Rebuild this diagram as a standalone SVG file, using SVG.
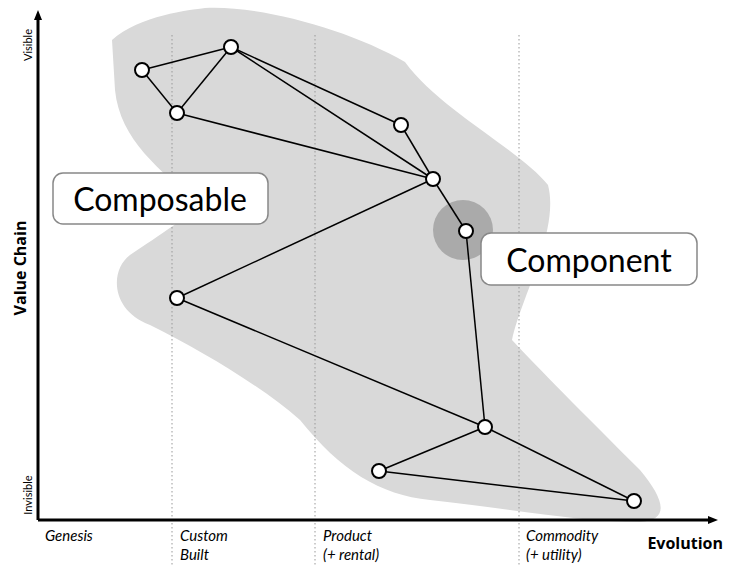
<svg xmlns="http://www.w3.org/2000/svg" width="743" height="568" viewBox="0 0 743 568">
<style>
.ax{stroke:#000;stroke-width:3;fill:none}
.dot{stroke:#999;stroke-width:1;stroke-dasharray:1.5 2.5}
.e{stroke:#000;stroke-width:1.5}
.n{fill:#fff;stroke:#000;stroke-width:2}
.lab{font-family:Lato,"Open Sans",sans-serif;font-style:italic;font-size:15px}
.box{fill:#fff;stroke:#888;stroke-width:1.5}
.big{font-family:Lato,"Open Sans",sans-serif;font-size:32px}
</style>
<defs><marker id="ar" markerWidth="10" markerHeight="10" refX="5" refY="4" orient="auto" markerUnits="userSpaceOnUse"><path d="M0,0 L10,4 L0,8 z"/></marker></defs>
<rect width="743" height="568" fill="#fff"/>
<path d="M112,40 C140,15 190,10 205,8 C260,5 350,30 405,62 C440,110 520,150 548,185 C560,230 520,300 512,340 C540,370 580,410 640,470 C665,500 670,520 640,522 C580,522 520,510 430,500 C380,495 340,470 300,420 C260,385 200,350 150,325 C110,310 110,270 130,255 C160,235 190,215 200,205 C160,170 120,140 115,90 Z" fill="#d9d9d9"/>
<circle cx="463" cy="230" r="30" fill="#aaa"/>
<g>
<line class="dot" x1="172" y1="35" x2="172" y2="565"/>
<line class="dot" x1="315" y1="35" x2="315" y2="565"/>
<line class="dot" x1="519" y1="35" x2="519" y2="565"/>
</g>
<g id="axes">
<line class="ax" x1="38" y1="520" x2="38" y2="15" marker-end="url(#ar)"/>
<line class="ax" x1="38" y1="520" x2="713" y2="520" marker-end="url(#ar)"/>
<text transform="translate(32,45) rotate(-90)" text-anchor="middle" font-family="Lato,sans-serif" font-size="11">Visible</text>
<text transform="translate(32,495) rotate(-90)" text-anchor="middle" font-family="Lato,sans-serif" font-size="11">Invisible</text>
<text transform="translate(26,268) rotate(-90)" text-anchor="middle" font-family="'Open Sans',sans-serif" font-weight="bold" font-size="16">Value Chain</text>
<text x="723" y="549" text-anchor="end" font-family="'Open Sans',sans-serif" font-weight="bold" font-size="16">Evolution</text>
<text class="lab" x="45" y="541">Genesis</text>
<text class="lab" x="180" y="541">Custom</text>
<text class="lab" x="180" y="560">Built</text>
<text class="lab" x="323" y="541">Product</text>
<text class="lab" x="323" y="560">(+ rental)</text>
<text class="lab" x="526" y="541">Commodity</text>
<text class="lab" x="526" y="560">(+ utility)</text>
</g>
<g id="connectors">
<line class="e" x1="142" y1="70" x2="231" y2="47"/>
<line class="e" x1="142" y1="70" x2="177" y2="113"/>
<line class="e" x1="177" y1="113" x2="231" y2="47"/>
<line class="e" x1="231" y1="47" x2="401" y2="125"/>
<line class="e" x1="231" y1="47" x2="433" y2="179"/>
<line class="e" x1="401" y1="125" x2="433" y2="179"/>
<line class="e" x1="177" y1="113" x2="433" y2="179"/>
<line class="e" x1="433" y1="179" x2="466" y2="231"/>
<line class="e" x1="433" y1="179" x2="177" y2="298"/>
<line class="e" x1="466" y1="231" x2="485" y2="427"/>
<line class="e" x1="177" y1="298" x2="485" y2="427"/>
<line class="e" x1="485" y1="427" x2="379" y2="471"/>
<line class="e" x1="379" y1="471" x2="634" y2="501"/>
<line class="e" x1="485" y1="427" x2="634" y2="501"/>
</g>
<g id="n1"><circle class="n" cx="142" cy="70" r="7"/></g>
<g id="n2"><circle class="n" cx="231" cy="47" r="7"/></g>
<g id="n3"><circle class="n" cx="177" cy="113" r="7"/></g>
<g id="n4"><circle class="n" cx="401" cy="125" r="7"/></g>
<g id="n5"><circle class="n" cx="433" cy="179" r="7"/></g>
<g id="n6"><circle class="n" cx="466" cy="231" r="7"/></g>
<g id="n7"><circle class="n" cx="177" cy="298" r="7"/></g>
<g id="n8"><circle class="n" cx="485" cy="427" r="7"/></g>
<g id="n9"><circle class="n" cx="379" cy="471" r="7"/></g>
<g id="n10"><circle class="n" cx="634" cy="501" r="7"/></g>
<g id="composable"><rect class="box" x="53" y="173" width="215" height="51" rx="10"/><text class="big" x="160" y="211" text-anchor="middle">Composable</text></g>
<g id="component"><rect class="box" x="481" y="233" width="216" height="52" rx="10"/><text class="big" x="589" y="272" text-anchor="middle">Component</text></g>
</svg>
